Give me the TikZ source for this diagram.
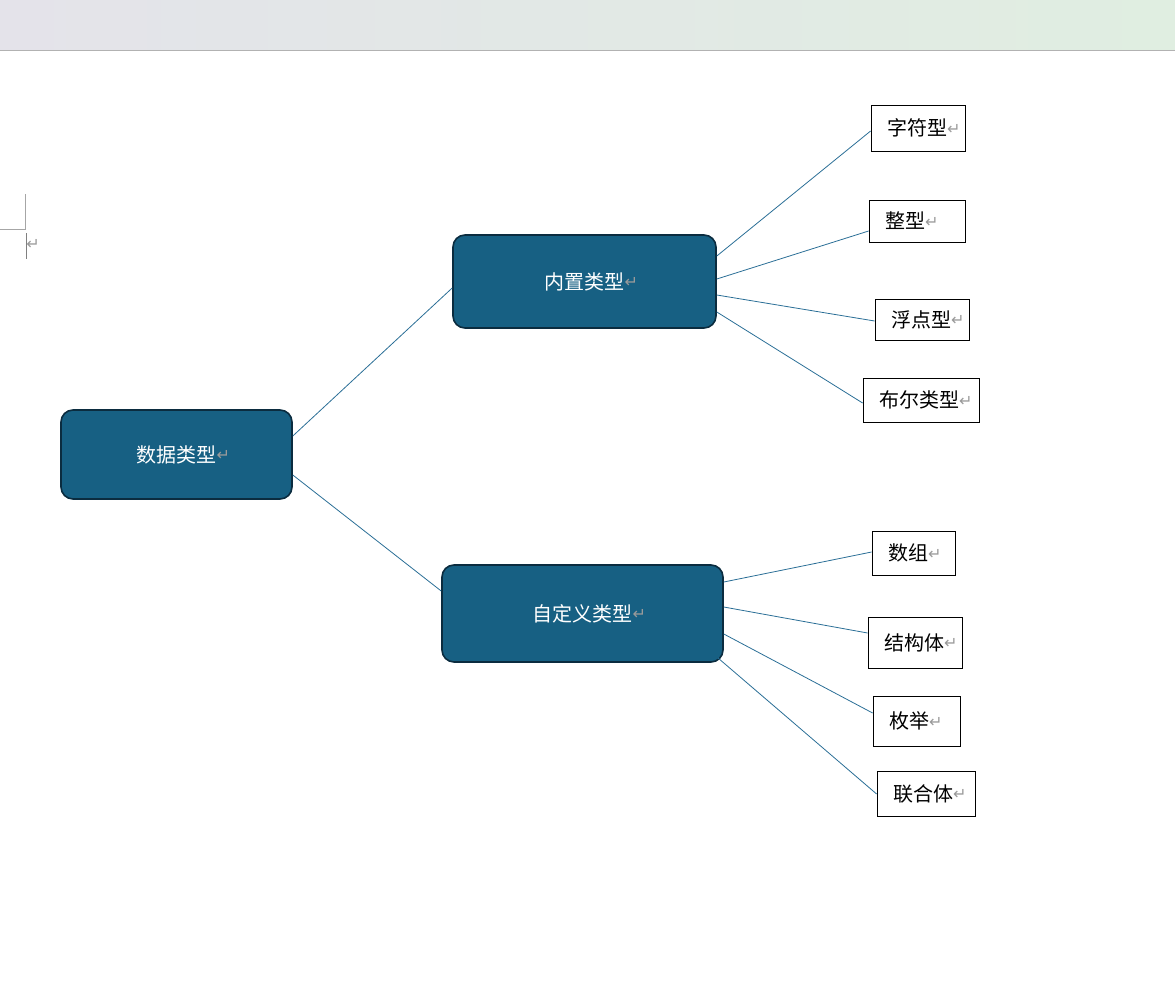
\documentclass[tikz,border=0pt]{standalone}
\usepackage{fontspec}
\setmainfont{Noto Sans CJK SC}
\newfontfamily\symfont{DejaVu Sans}
\usepackage{xcolor}
\usetikzlibrary{positioning}

\definecolor{boxblue}{HTML}{176083}
\definecolor{boxedge}{HTML}{0B2C3F}
\definecolor{linkblue}{HTML}{2A6E96}
\definecolor{markgray}{HTML}{9A9A9A}

% return mark as shown by the editor
\newcommand{\retmark}{\rlap{\raisebox{1.5pt}{\textcolor{markgray}{\symfont\fontsize{16}{16}\selectfont↵}}}}

\begin{document}
\begin{tikzpicture}[
    x=1pt, y=-1pt,
    main/.style={rectangle, rounded corners=12pt, draw=boxedge, line width=1.6pt,
                 fill=boxblue, text=white, font=\fontsize{20}{24}\selectfont},
    leaf/.style={rectangle, draw=black, line width=0.8pt, fill=white,
                 inner xsep=16pt, inner ysep=0pt, text width=#1, align=left,
                 font=\fontsize{20}{24}\selectfont},
    link/.style={draw=linkblue, line width=0.8pt},
]
\useasboundingbox (0,0) rectangle (1175,990);

%% editor window bits
\fill[left color={rgb,255:red,228;green,227;blue,234}, middle color={rgb,255:red,224;green,234;blue,234},
      right color={rgb,255:red,224;green,238;blue,225}] (0,0) rectangle (1175,50);
\draw[gray!60, line width=0.8pt] (0,50) -- (1175,50);
\draw[gray!70, line width=0.8pt] (0,229) -- (25,229) -- (25,194);
\draw[gray, line width=0.8pt] (26,233) -- (26,259);
\node[font=\symfont\fontsize{16}{16}\selectfont, text=markgray, inner sep=0pt] (cur) at (33,244) {↵};

%% main boxes
\node[main, minimum width=231pt, minimum height=89pt] (root)  at (176.5,454.5) {数据类型\retmark};
\node[main, minimum width=263pt, minimum height=93pt] (inner) at (584.5,281.5) {内置类型\retmark};
\node[main, minimum width=281pt, minimum height=97pt] (user)  at (582.5,613.5) {自定义类型\retmark};

%% built-in types
\node[leaf=62pt, minimum height=46pt] (chr)  at (918,128)   {字符型\retmark};
\node[leaf=64pt, minimum height=42pt] (int)  at (917,221)   {整型\retmark};
\node[leaf=62pt, minimum height=41pt] (flt)  at (922,319.5) {浮点型\retmark};
\node[leaf=84pt, minimum height=44pt] (bool) at (921,400)   {布尔类型\retmark};

%% user-defined types
\node[leaf=51pt, minimum height=44pt] (arr)  at (913.5,553) {数组\retmark};
\node[leaf=62pt, minimum height=51pt] (strc) at (915,642.5) {结构体\retmark};
\node[leaf=55pt, minimum height=50pt] (enm)  at (916.5,721) {枚举\retmark};
\node[leaf=66pt, minimum height=45pt] (uni)  at (926,793.5) {联合体\retmark};

%% links
\draw[link] (root.east |- 0,436) -- (inner.west |- 0,288);
\draw[link] (root.east |- 0,475) -- (user.west |- 0,591);

\foreach \y/\b/\t in {256/chr/131, 279/int/231, 295/flt/321, 312/bool/403}
  \draw[link] (inner.east |- 0,\y) -- (\b.west |- 0,\t);
\foreach \y/\b/\t in {582/arr/552, 607/strc/633, 634/enm/713}
  \draw[link] (user.east |- 0,\y) -- (\b.west |- 0,\t);
\draw[link] (718,658) -- (uni.west |- 0,794);

\end{tikzpicture}
\end{document}
